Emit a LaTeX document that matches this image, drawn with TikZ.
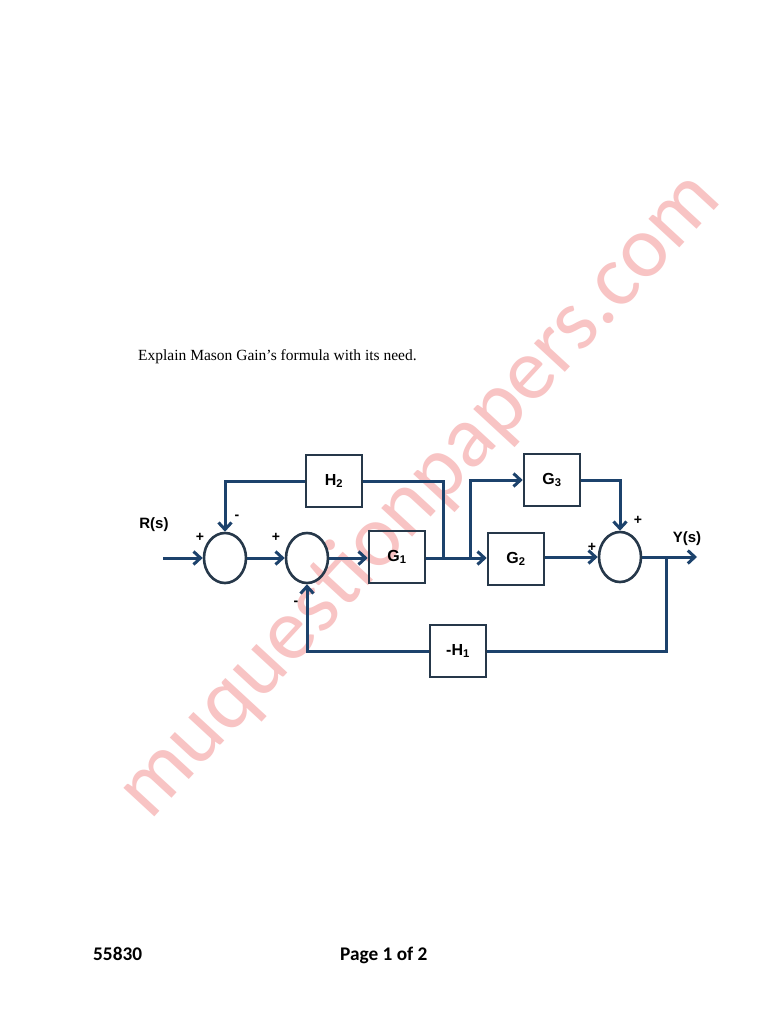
\documentclass[tikz,border=0pt]{standalone}
\usepackage{fontspec}
\setmainfont{Liberation Serif}
\setsansfont{Liberation Sans}
\newfontfamily\calibri{Carlito}
\usetikzlibrary{arrows.meta, shapes.geometric}
\definecolor{mywire}{RGB}{28,66,108}
\definecolor{myframe}{RGB}{38,56,74}
\definecolor{mypink}{RGB}{248,196,196}
\newcommand{\gain}[2]{#1\textsubscript{#2}}
\newcommand{\widthblock}{56pt}
\newcommand{\heightblock}{52pt}
\tikzset{
    common/.style={draw=myframe, line width=2.6pt, inner sep=0pt},
    block/.style={common, rectangle, minimum width=\widthblock, minimum height=\heightblock, font=\sffamily\bfseries\fontsize{16}{18}\selectfont},
    summer/.style={common, ellipse, minimum width=42pt, minimum height=50pt},
    wire/.style={draw=mywire, line width=3pt},
    flow/.style={wire, -{Straight Barb[length=7pt, width=13pt]}},
    sign/.style={font=\sffamily\bfseries\fontsize{14}{16}\selectfont, inner sep=0pt},
    signal/.style={font=\sffamily\bfseries\fontsize{15}{17}\selectfont, inner sep=0pt}
}
\begin{document}
\begin{tikzpicture}[x=1pt, y=-1pt]
    \fill[white] (0,0) rectangle (768,1024);
    \useasboundingbox (0,0) rectangle (768,1024);

    \node[anchor=base west, rotate=47.3, inner sep=0pt, text=mypink, font=\calibri\fontsize{88}{88}\selectfont] (mark) at (150,822) {muquestionpapers.com};

    \node[anchor=base west, font=\fontsize{15.5}{18}\selectfont, inner sep=0pt] (question) at (138,360) {Explain Mason Gain’s formula with its need.};
    \node[anchor=base west, font=\calibri\bfseries\fontsize{19.3}{22}\selectfont, inner sep=0pt] (paper) at (93,960) {55830};
    \node[anchor=base west, font=\calibri\bfseries\fontsize{19.3}{22}\selectfont, inner sep=0pt] (page) at (340,960) {Page 1 of 2};

    \node[summer] (S1) at (225,558) {};
    \node[summer] (S2) at (307,558) {};
    \node[summer] (S3) at (620,557) {};
    \node[block] (G1) at (397,557) {\gain{G}{1}};
    \node[block] (G2) at (516,559) {\gain{G}{2}};
    \node[block] (G3) at (552,480) {\gain{G}{3}};
    \node[block] (H2) at (334,481) {\gain{H}{2}};
    \node[block] (H1) at (458,651) {-\gain{H}{1}};

    \coordinate (R-in) at (163,558);
    \coordinate (J1) at (443,558);
    \coordinate (J2) at (470,558);
    \coordinate (Y-branch) at (666,557);
    \coordinate (Y-out) at (697,557);

    \node[signal] (R) at (154,525) {R(s)};
    \node[signal] (Y) at (687,539) {Y(s)};
    \node[sign] (S1-plus) at (200,537) {+};
    \node[sign] (S1-minus) at (237,517) {-};
    \node[sign] (S2-plus) at (276,537) {+};
    \node[sign] (S2-minus) at (296,603) {-};
    \node[sign] (S3-plus-top) at (638,520) {+};
    \node[sign] (S3-plus-left) at (592,547) {+};

    \draw[flow] (R-in) -- (S1.west);
    \draw[flow] (S1.east) -- (S2.west);
    \draw[flow] (S2.east) -- (G1.west |- S2.east);
    \draw[wire] (G1.east |- J1) -- (J2);
    \draw[flow] (J2) -- (G2.west |- J2);
    \draw[wire] (J1) |- (H2.east);
    \draw[flow] (H2.west) -| (S1.north);
    \draw[flow] (J2) |- (G3.west);
    \draw[flow] (G3.east) -| (S3.north);
    \draw[flow] (G2.east |- S3.west) -- (S3.west);
    \draw[flow] (S3.east) -- (Y-out);
    \draw[wire] (Y-branch) |- (H1.east);
    \draw[flow] (H1.west) -| (S2.south);
\end{tikzpicture}
\end{document}
